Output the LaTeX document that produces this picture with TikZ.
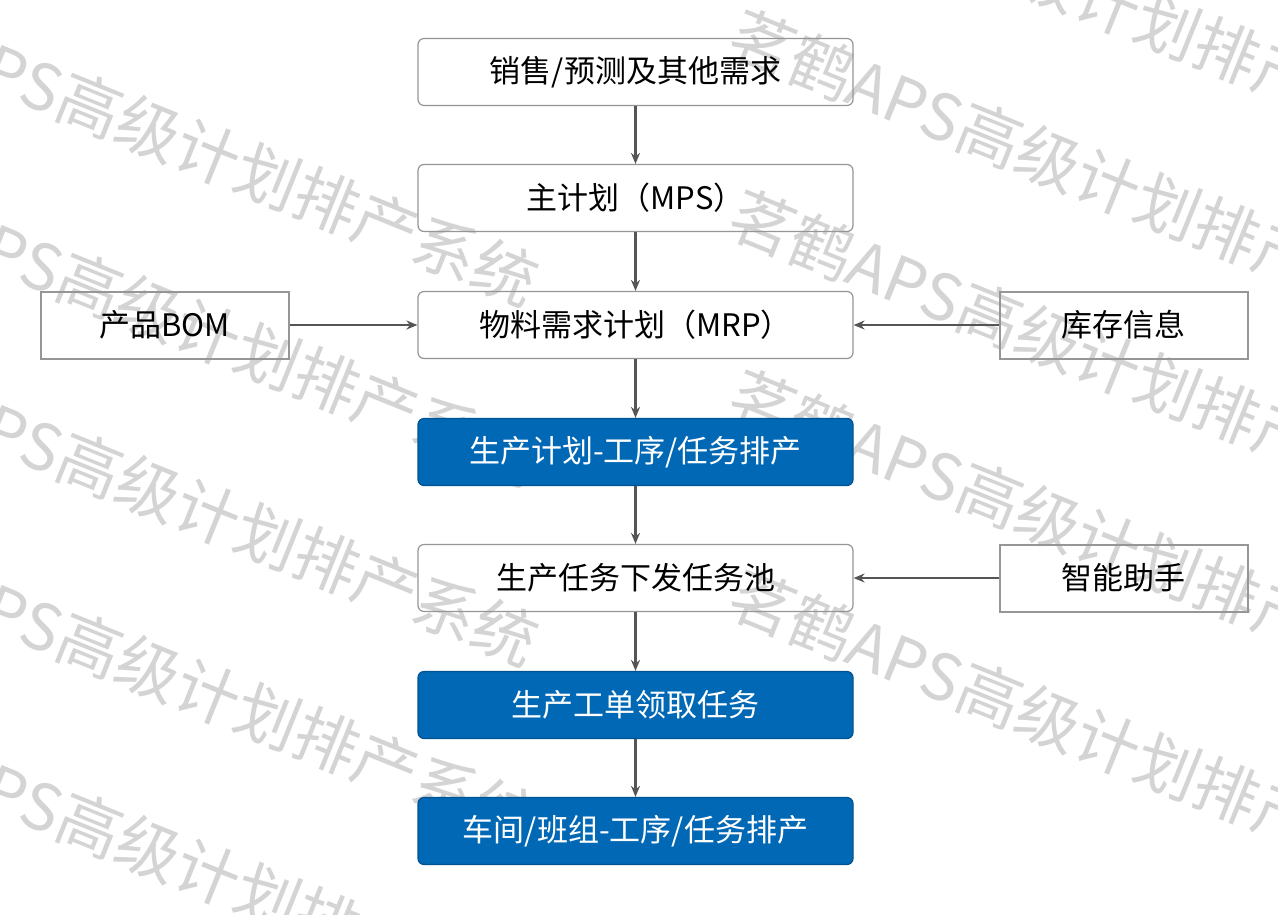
\documentclass[tikz,border=0pt]{standalone}
\usepackage{fontspec}
\setmainfont{Liberation Sans}
\newfontfamily\cjk{Noto Sans CJK SC}
\usetikzlibrary{arrows.meta}
\definecolor{bblue}{RGB}{0,104,180}
\definecolor{bord}{RGB}{150,150,150}
\definecolor{arr}{RGB}{85,85,85}
\begin{document}
\begin{tikzpicture}[x=1pt,y=-1pt,
  mbox/.style={draw=bord,line width=1.2pt,rounded corners=6pt,minimum width=435pt,minimum height=67pt,font=\cjk\fontsize{31}{34}\selectfont},
  bluebox/.style={mbox,fill=bblue,draw=bblue!80!black,text=white},
  sbox/.style={draw=bord,line width=2pt,minimum width=248pt,minimum height=67pt,font=\cjk\fontsize{31}{34}\selectfont},
  conn/.style={draw=arr,line width=2.5pt,-{Stealth[length=11pt,width=9pt]}},
  wm/.style={anchor=west,rotate=-22,text=black!17,font=\cjk\fontsize{64}{66}\selectfont}]
\useasboundingbox (0,0) rectangle (1278,914);
\fill[white] (0,0) rectangle (1278,914);
\foreach \yy in {0,180,360,540,720,900}
  \node[wm] at (-170,\yy) {茗鹤APS高级计划排产系统};
\foreach \yy in {-150,30,210,390,590}
  \node[wm] at (730,\yy) {茗鹤APS高级计划排产系统};
\node[mbox] (a) at (635.5,72) {销售/预测及其他需求};
\node[mbox] (b) at (635.5,198) {主计划（MPS）};
\node[mbox] (c) at (635.5,325) {物料需求计划（MRP）};
\node[bluebox] (d) at (635.5,452) {生产计划-工序/任务排产};
\node[mbox] (e) at (635.5,578) {生产任务下发任务池};
\node[bluebox] (f) at (635.5,705) {生产工单领取任务};
\node[bluebox] (g) at (635.5,831) {车间/班组-工序/任务排产};
\node[sbox] (l) at (164.5,325) {产品BOM};
\node[sbox] (r1) at (1123.5,325) {库存信息};
\node[sbox] (r2) at (1123.5,578) {智能助手};
\foreach \p/\q in {a/b,b/c,c/d,d/e,e/f,f/g} \draw[conn] (\p) -- (\q);
\draw[conn] (l) -- (c);
\draw[conn] (r1) -- (c);
\draw[conn] (r2) -- (e);
\end{tikzpicture}
\end{document}
